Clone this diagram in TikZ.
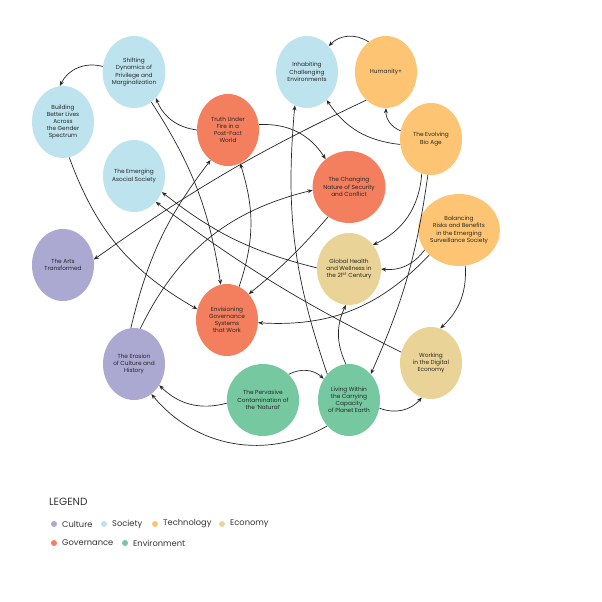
\documentclass[tikz,border=0pt]{standalone}
\usepackage{fontspec}
\setmainfont{Poppins}
\usetikzlibrary{shapes.geometric,arrows.meta}
\definecolor{cul}{HTML}{ABA8D2}
\definecolor{soc}{HTML}{BDE3EE}
\definecolor{tec}{HTML}{FDC573}
\definecolor{eco}{HTML}{EAD396}
\definecolor{gov}{HTML}{F47F5E}
\definecolor{env}{HTML}{76C8A0}
\begin{document}
\begin{tikzpicture}[x=1pt,y=-1pt,
  topic/.style={ellipse,minimum width=62pt,minimum height=72pt,inner sep=0pt,align=center,font=\fontsize{5.8}{7.2}\selectfont,text=black!85},
  link/.style={-{Stealth[length=5pt,width=4pt]},line width=0.7pt,black!85},
  dot/.style={circle,inner sep=0pt,minimum size=6pt},
  leg/.style={anchor=west,inner sep=0pt,font=\fontsize{8.3}{9}\selectfont,text=black!80}]
\useasboundingbox (0,0) rectangle (602,602);
\node[topic,fill=soc] (shift) at (134,72) {Shifting\\Dynamics of\\Privilege and\\Marginalization};
\node[topic,fill=soc] (inhab) at (307,72) {Inhabiting\\Challenging\\Environments};
\node[topic,fill=tec] (human) at (386,72) {Humanity+};
\node[topic,fill=soc] (build) at (63,122) {Building\\Better Lives\\Across\\the Gender\\Spectrum};
\node[topic,fill=gov] (truth) at (228,130) {Truth Under\\Fire in a\\Post-Fact\\World};
\node[topic,fill=tec] (evolv) at (431,139) {The Evolving\\Bio Age};
\node[topic,fill=soc] (asoc) at (134,176) {The Emerging\\Asocial Society};
\node[topic,fill=gov] (chang) at (349,187) {The Changing\\Nature of Security\\and Conflict};
\node[topic,fill=tec] (balan) at (459,230) {Balancing\\Risks and Benefits\\in the Emerging\\Surveillance Society};
\node[topic,fill=cul] (arts) at (63,265) {The Arts\\Transformed};
\node[topic,fill=eco] (glob) at (349,269) {Global Health\\and Wellness in\\the 21\textsuperscript{st} Century};
\node[topic,fill=gov] (envis) at (227,320) {Envisioning\\Governance\\Systems\\that Work};
\node[topic,fill=cul] (eros) at (134,364) {The Erosion\\of Culture and\\History};
\node[topic,fill=eco] (work) at (431,363) {Working\\in the Digital\\Economy};
\node[topic,fill=env] (perv) at (263,400) {The Pervasive\\Contamination of\\the `Natural'};
\node[topic,fill=env] (live) at (349,400) {Living Within\\the Carrying\\Capacity\\of Planet Earth};

\draw[link] (shift.170) to[bend right=40] (build.95);
\draw[link] (human.120) to[bend right=40] (inhab.50);
\draw[link] (truth.180) to[bend left=30] (shift.-50);
\draw[link] (shift.-60) to[bend left=12] (envis.100);
\draw[link] (truth.10) to[bend left=30] (chang.130);
\draw[link] (human.-125) to[bend right=5] (arts.10);
\draw[link] (evolv.165) to[bend left=35] (human.-90);
\draw[link] (evolv.190) to[bend left=25] (inhab.-55);
\draw[link] (live.130) to[bend left=12] (inhab.-110);
\draw[link] (eros.95) to[bend left=12] (truth.-120);
\draw[link] (envis.70) to[bend right=18] (truth.-70);
\draw[link] (eros.80) to[bend left=25] (chang.185);
\draw[link] (chang.-125) to[bend left=5] (envis.50);
\draw[link] (glob.178) to[bend left=12] (asoc.-30);
\draw[link] (work.160) to[bend left=5] (asoc.-50);
\draw[link] (build.-80) to[bend right=20] (envis.160);
\draw[link] (evolv.-105) to[bend left=30] (glob.45);
\draw[link] (evolv.-95) to[bend left=8] (live.50);
\draw[link] (balan.210) to[bend left=30] (glob.0);
\draw[link] (balan.220) to[bend left=25] (envis.-5);
\draw[link] (balan.-80) to[bend left=25] (work.75);
\draw[link] (live.95) to[bend left=25] (glob.-95);
\draw[link] (perv.45) to[bend left=35] (live.140);
\draw[link] (perv.185) to[bend left=30] (eros.-40);
\draw[link] (live.-130) to[bend left=40] (eros.-60);
\draw[link] (live.-15) to[bend right=35] (work.-105);

\node[anchor=west,inner sep=0pt,font=\fontsize{10.5}{11}\selectfont,text=black!80] (lg) at (49,502) {LEGEND};
\node[dot,fill=cul] (d1) at (54,524) {}; \node[leg] (t1) at (62,524) {Culture};
\node[dot,fill=soc] (d2) at (104,524) {}; \node[leg] (t2) at (112,524) {Society};
\node[dot,fill=tec] (d3) at (155,524) {}; \node[leg] (t3) at (163,524) {Technology};
\node[dot,fill=eco] (d4) at (222,524) {}; \node[leg] (t4) at (230,524) {Economy};
\node[dot,fill=gov] (d5) at (54,543) {}; \node[leg] (t5) at (62,543) {Governance};
\node[dot,fill=env] (d6) at (125,543) {}; \node[leg] (t6) at (133,543) {Environment};
\end{tikzpicture}
\end{document}
